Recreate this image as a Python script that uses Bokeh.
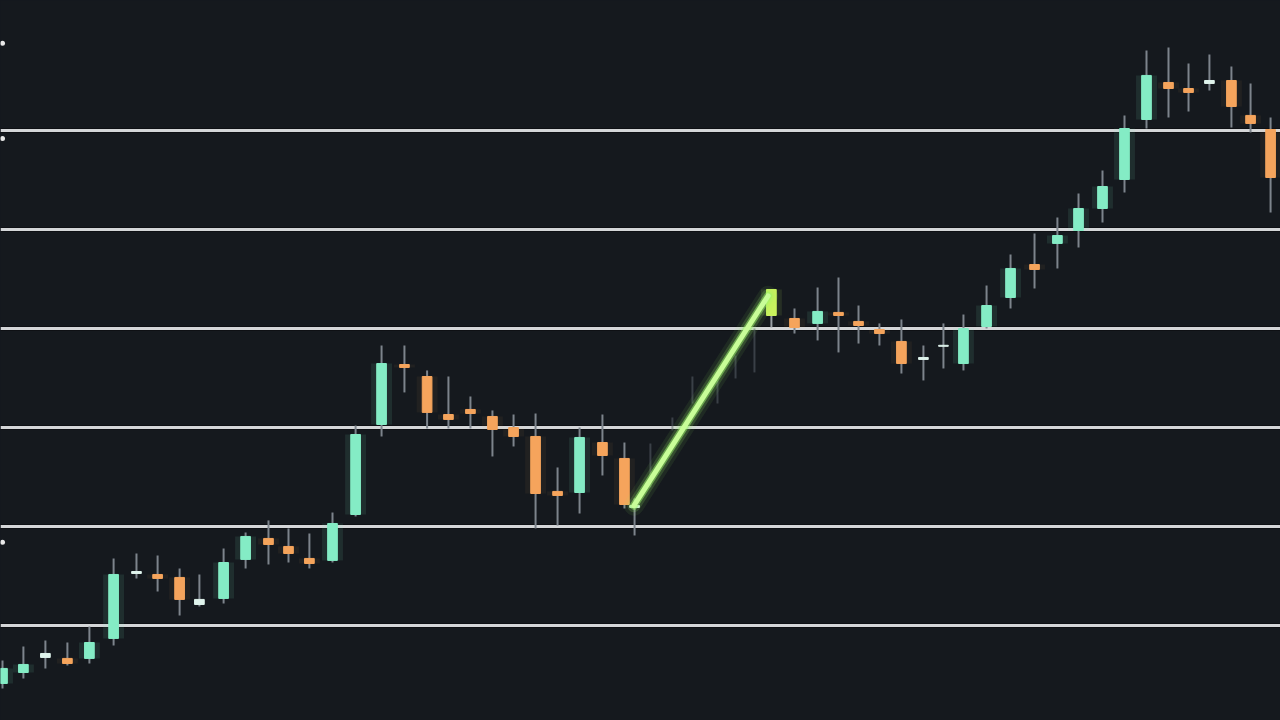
from bokeh.plotting import figure
from bokeh.models import Range1d, ColumnDataSource
from bokeh.embed import file_html
from bokeh.resources import INLINE

# ---- data ----
session = [0.0, 0.95, 1.95, 2.95, 3.95, 5.05, 6.09, 7.05, 8.05, 8.95,
           10.05, 11.05, 12.09, 13.0, 13.95, 15.0, 16.05, 17.23, 18.27, 19.3,
           20.27, 21.27, 22.27, 23.23, 24.23, 25.23, 26.23, 27.27, 28.27, 28.73,
           29.45, 30.45, 31.36, 32.5, 33.32, 34.18, 34.95, 36.0, 37.05, 38.0,
           38.91, 39.86, 40.86, 41.86, 42.77, 43.68, 44.73, 45.82, 46.91, 47.95,
           48.91, 50.0, 51.0, 52.0, 53.0, 53.91, 54.86, 55.86, 56.73, 57.64]
open_ = [94.14, 95.25, 96.77, 96.67, 96.67, 98.69, 105.25, 105.15, 104.85, 102.12,
         102.73, 106.67, 108.79, 107.98, 106.77, 106.57, 111.21, 120.30, 126.36, 125.15,
         121.31, 121.82, 121.11, 120.00, 119.09, 113.54, 113.43, 118.48, 116.87, 112.12,
         115.80, 120.20, 123.60, 123.40, 125.90, 127.50, 131.31, 131.01, 130.51, 131.62,
         130.71, 129.90, 128.69, 126.87, 128.20, 126.46, 130.20, 133.13, 136.46, 138.59,
         139.90, 142.12, 145.05, 151.11, 154.85, 154.24, 154.75, 155.05, 151.52, 150.10]
close = [95.66, 96.06, 97.17, 96.16, 98.28, 105.15, 105.45, 104.75, 102.63, 102.63,
         106.36, 108.99, 108.18, 107.27, 106.26, 110.30, 119.29, 126.46, 126.06, 121.52,
         120.81, 121.41, 119.80, 119.09, 113.33, 113.13, 118.99, 117.17, 112.22, 111.92,
         116.20, 120.50, 124.00, 123.70, 126.30, 127.80, 133.94, 130.10, 131.72, 131.31,
         130.30, 129.49, 126.46, 127.07, 128.30, 130.00, 132.32, 136.06, 135.96, 139.39,
         142.12, 144.34, 150.20, 155.56, 154.24, 153.84, 155.05, 152.42, 150.71, 145.25]
high = [96.46, 97.88, 98.48, 98.28, 99.90, 106.77, 107.27, 107.07, 105.76, 105.15,
        107.78, 109.39, 110.61, 109.80, 109.29, 111.41, 120.20, 128.28, 128.28, 125.76,
        125.15, 123.13, 121.72, 121.31, 121.41, 115.96, 120.00, 121.31, 118.48, 112.83,
        118.38, 121.01, 125.15, 124.75, 127.27, 130.00, 133.94, 132.02, 134.14, 135.15,
        132.32, 130.51, 130.91, 128.28, 130.51, 131.41, 134.34, 137.47, 139.60, 141.21,
        143.64, 145.96, 151.52, 158.08, 158.38, 156.77, 157.68, 156.46, 154.75, 151.31]
low = [93.64, 94.65, 95.66, 95.96, 96.16, 97.98, 104.75, 103.43, 101.01, 101.92,
       102.22, 105.76, 106.16, 106.36, 105.76, 106.36, 111.01, 119.09, 123.54, 119.90,
       119.90, 119.90, 117.07, 118.08, 109.80, 110.10, 111.31, 115.15, 111.82, 109.09,
       113.94, 119.70, 122.42, 122.42, 124.95, 125.56, 130.10, 129.49, 128.79, 127.58,
       128.48, 128.28, 125.45, 124.75, 125.96, 125.76, 130.00, 132.02, 134.04, 136.06,
       138.18, 140.71, 143.74, 150.20, 151.31, 151.92, 154.04, 150.30, 149.80, 141.72]
# kind: g = rising, o = falling, n = neutral/doji, f = faded (under the trend line), h = highlighted
kind = ["g", "g", "n", "o", "g", "g", "n", "o", "o", "n",
        "g", "g", "o", "o", "o", "g", "g", "g", "o", "o",
        "o", "o", "o", "o", "o", "o", "g", "o", "o", "n",
        "f", "f", "f", "f", "f", "f", "h", "o", "g", "o",
        "o", "o", "o", "n", "n", "g", "g", "g", "o", "g",
        "g", "g", "g", "g", "o", "o", "n", "o", "o", "o"]
levels = [100, 110, 120, 130, 140, 150]
trend_x = [28.7, 34.8]
trend_y = [112.1, 133.3]
edge_mark_y = [158.8, 149.2, 108.4]

BG = "#15191e"
COL = {"g": "#84ecc5", "o": "#f5a45c", "n": "#dff3ec", "f": "#3a4048", "h": "#c9f25e"}
WICK = {"g": "#7d848c", "o": "#7d848c", "n": "#7d848c", "f": "#5a6169", "h": "#9aa0a6"}

src = ColumnDataSource(dict(
    x=session, top=[max(a, b) for a, b in zip(open_, close)],
    bottom=[min(a, b) for a, b in zip(open_, close)],
    high=high, low=low,
    fill=[COL[k] for k in kind], wick=[WICK[k] for k in kind],
    body_alpha=[0.0 if k == "f" else 1.0 for k in kind],
    wick_alpha=[0.55 if k == "f" else 1.0 for k in kind],
    glow=[0.10 if k in ("g", "h") else (0.06 if k == "o" else 0.0) for k in kind],
))

p = figure(width=1280, height=720, output_backend="svg", toolbar_location=None,
           x_range=Range1d(-2 / 22, 1278 / 22), y_range=Range1d(90.40, 163.13),
           x_axis_location=None, y_axis_location=None, min_border=0,
           background_fill_color=BG, border_fill_color=BG, outline_line_color=None)
p.xgrid.visible = False
p.ygrid.visible = False

# horizontal levels
p.hspan(y=levels, line_color="#0c0e11", line_width=5, line_alpha=0.8)
p.hspan(y=levels, line_color="#d4d6d8", line_width=2.8)

# glow behind bodies
p.vbar(x="x", top="top", bottom="bottom", width=0.95, source=src,
       fill_color="fill", fill_alpha="glow", line_color=None)
# wicks
p.segment(x0="x", y0="low", x1="x", y1="high", source=src,
          line_color="wick", line_width=2, line_alpha="wick_alpha")
# bodies
p.vbar(x="x", top="top", bottom="bottom", width=0.44, source=src,
       fill_color="fill", fill_alpha="body_alpha", line_color="fill",
       line_alpha="body_alpha", line_width=1)

# highlighted trend line with glow
for w, a in [(20, 0.08), (13, 0.18), (8, 0.5)]:
    p.line(trend_x, trend_y, line_color="#9cf56a", line_width=w, line_alpha=a,
           line_cap="round")
p.line(trend_x, trend_y, line_color="#c8fd98", line_width=5, line_cap="round")

# cropped marks at the left edge
p.scatter(x=[0.0] * len(edge_mark_y), y=edge_mark_y, size=5, marker="circle",
          fill_color="#e8e8e8", line_color=None)

html = file_html(p, INLINE)
html = html.replace("<body>", '<body style="background-color:%s">' % BG)
open("out.html", "w").write(html)
